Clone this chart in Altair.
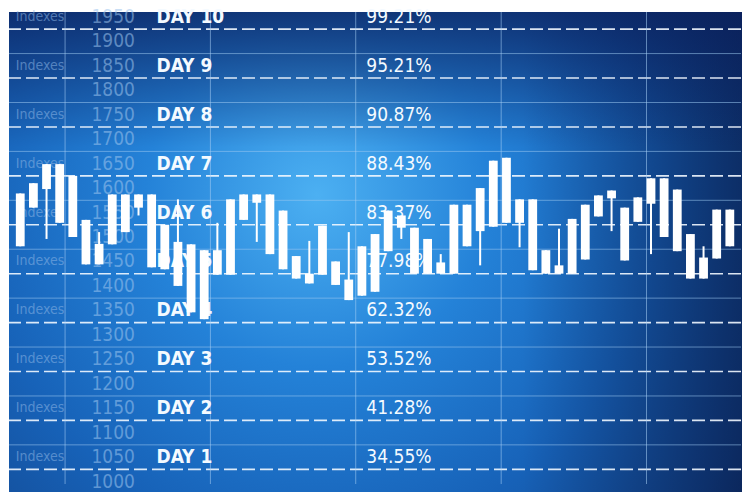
import altair as alt
import pandas as pd

# ---- data (index units) ----
candle_no = list(range(1, 56))
body_top = [1589, 1610, 1649, 1649, 1625, 1535, 1486, 1587, 1587, 1587, 1587, 1525, 1490, 1485, 1473,
            1473, 1577, 1587, 1587, 1587, 1554, 1461, 1425, 1523, 1450, 1413, 1481, 1506, 1554, 1544,
            1519, 1496, 1448, 1566, 1566, 1600, 1656, 1662, 1577, 1577, 1473, 1442, 1537, 1566, 1585,
            1595, 1560, 1581, 1620, 1620, 1597, 1506, 1458, 1556, 1556]
body_bottom = [1481, 1560, 1598, 1529, 1500, 1444, 1444, 1485, 1510, 1560, 1438, 1434, 1400, 1346, 1332,
               1423, 1423, 1535, 1570, 1465, 1434, 1415, 1405, 1423, 1402, 1371, 1380, 1388, 1471, 1519,
               1425, 1425, 1425, 1425, 1481, 1512, 1521, 1529, 1529, 1432, 1425, 1425, 1425, 1454, 1542,
               1579, 1452, 1531, 1568, 1500, 1471, 1415, 1415, 1456, 1481]
wick_high = [1589, 1610, 1649, 1649, 1625, 1535, 1510, 1587, 1587, 1587, 1587, 1525, 1577, 1485, 1473,
             1529, 1577, 1587, 1587, 1587, 1554, 1461, 1492, 1523, 1450, 1510, 1481, 1506, 1554, 1544,
             1519, 1496, 1465, 1566, 1566, 1600, 1656, 1662, 1577, 1577, 1473, 1517, 1537, 1566, 1585,
             1595, 1560, 1581, 1620, 1620, 1597, 1506, 1481, 1556, 1556]
wick_low = [1481, 1560, 1496, 1529, 1500, 1444, 1444, 1485, 1510, 1544, 1438, 1434, 1400, 1346, 1332,
            1423, 1423, 1535, 1490, 1465, 1434, 1415, 1405, 1423, 1402, 1371, 1380, 1388, 1471, 1496,
            1425, 1425, 1425, 1425, 1481, 1442, 1521, 1529, 1479, 1432, 1425, 1425, 1425, 1454, 1542,
            1512, 1452, 1531, 1465, 1500, 1471, 1415, 1415, 1456, 1481]

index_values = [1000, 1050, 1100, 1150, 1200, 1250, 1300, 1350, 1400, 1450,
                1500, 1550, 1600, 1650, 1700, 1750, 1800, 1850, 1900, 1950]
row_values = [1050, 1150, 1250, 1350, 1450, 1550, 1650, 1750, 1850, 1950]
day_labels = ["DAY 1", "DAY 2", "DAY 3", "DAY 4", "DAY 5", "DAY 6", "DAY 7", "DAY 8", "DAY 9", "DAY 10"]
pct_labels = ["34.55%", "41.28%", "53.52%", "62.32%", "77.98%", "83.37%", "88.43%", "90.87%", "95.21%", "99.21%"]
row_title = "Indexes"

dashed_lines = [1025, 1125, 1225, 1325, 1425, 1525, 1625, 1725, 1825, 1925]
solid_lines = [1075, 1175, 1275, 1375, 1475, 1575, 1675, 1775, 1875]
column_lines = [4.41, 15.47, 26.53, 37.6, 48.66]
col_pos = {"indexes": 2.5, "numbers": 8.07, "days": 11.37, "pct": 27.34}

W, H = 734, 484
xs = alt.Scale(domain=[0.524, 55.47], nice=False, zero=False)
ys = alt.Scale(domain=[995, 1960], nice=False, zero=False)

candles = pd.DataFrame({"n": candle_no, "top": body_top, "bottom": body_bottom,
                        "high": wick_high, "low": wick_low})
idx_df = pd.DataFrame({"v": index_values, "label": [str(v) for v in index_values],
                       "x": col_pos["numbers"]})
rows_df = pd.DataFrame({"v": row_values, "day": day_labels, "pct": pct_labels,
                        "title": row_title, "xi": col_pos["indexes"],
                        "xd": col_pos["days"], "xp": col_pos["pct"]})
dash_df = pd.DataFrame({"v": dashed_lines})
solid_df = pd.DataFrame({"v": solid_lines})
col_df = pd.DataFrame({"c": column_lines})

FONT = "DejaVu Sans Condensed, DejaVu Sans"

bg_grad = alt.RadialGradient(
    gradient="radial", x1=0.42, y1=0.42, r1=0, x2=0.42, y2=0.42, r2=0.78,
    stops=[alt.GradientStop(offset=0, color="#4cb0f2"),
           alt.GradientStop(offset=0.3, color="#2482d8"),
           alt.GradientStop(offset=0.6, color="#1762b8"),
           alt.GradientStop(offset=0.85, color="#134a94"),
           alt.GradientStop(offset=1, color="#0e3470")])
right_shade = alt.LinearGradient(
    gradient="linear", x1=0, y1=0, x2=1, y2=0,
    stops=[alt.GradientStop(offset=0, color="rgba(8,30,80,0)"),
           alt.GradientStop(offset=0.7, color="rgba(8,30,80,0)"),
           alt.GradientStop(offset=1, color="rgba(8,25,70,0.65)")])
top_shade = alt.LinearGradient(
    gradient="linear", x1=0, y1=0, x2=0, y2=1,
    stops=[alt.GradientStop(offset=0, color="rgba(10,30,90,0.75)"),
           alt.GradientStop(offset=0.28, color="rgba(10,30,90,0)"),
           alt.GradientStop(offset=1, color="rgba(10,30,90,0)")])

base = alt.Chart(pd.DataFrame({"a": [0]}))
bg = base.mark_rect(fill=bg_grad).encode(x=alt.value(0), x2=alt.value(W), y=alt.value(0), y2=alt.value(H))
bg2 = base.mark_rect(fill=right_shade).encode(x=alt.value(0), x2=alt.value(W), y=alt.value(0), y2=alt.value(H))
bg3 = base.mark_rect(fill=top_shade).encode(x=alt.value(0), x2=alt.value(W), y=alt.value(0), y2=alt.value(H))

solid = alt.Chart(solid_df).mark_rule(color="#9cc8f0", strokeWidth=1, opacity=0.55).encode(
    y=alt.Y("v:Q", scale=ys, axis=None))
dashed = alt.Chart(dash_df).mark_rule(color="#f2f8ff", strokeWidth=1.6, strokeDash=[13, 5], opacity=0.9).encode(
    y=alt.Y("v:Q", scale=ys, axis=None))
cols = alt.Chart(col_df).mark_rule(color="#a8d0f5", strokeWidth=1, opacity=0.55).encode(
    x=alt.X("c:Q", scale=xs, axis=None))

t_idx = alt.Chart(rows_df).mark_text(font=FONT, fontSize=14, color="#8ab4e4", opacity=0.55,
                                     align="center", baseline="middle").encode(
    x=alt.X("xi:Q", scale=xs, axis=None), y=alt.Y("v:Q", scale=ys, axis=None), text="title:N")
t_num = alt.Chart(idx_df).mark_text(font=FONT, fontSize=19, color="#9cc4ee", opacity=0.55,
                                    align="center", baseline="middle").encode(
    x=alt.X("x:Q", scale=xs, axis=None), y=alt.Y("v:Q", scale=ys, axis=None), text="label:N")
t_day = alt.Chart(rows_df).mark_text(font=FONT, fontSize=19, fontWeight="bold", color="#f4faff",
                                     align="left", baseline="middle").encode(
    x=alt.X("xd:Q", scale=xs, axis=None), y=alt.Y("v:Q", scale=ys, axis=None), text="day:N")
t_pct = alt.Chart(rows_df).mark_text(font=FONT, fontSize=19, color="#f4faff",
                                     align="left", baseline="middle").encode(
    x=alt.X("xp:Q", scale=xs, axis=None), y=alt.Y("v:Q", scale=ys, axis=None), text="pct:N")

wicks = alt.Chart(candles).mark_rule(color="white", strokeWidth=2).encode(
    x=alt.X("n:Q", scale=xs, axis=None), y=alt.Y("low:Q", scale=ys, axis=None), y2="high:Q")
bodies = alt.Chart(candles).mark_bar(color="white", size=8.8, orient="vertical").encode(
    x=alt.X("n:Q", scale=xs, axis=None), y=alt.Y("bottom:Q", scale=ys, axis=None), y2="top:Q")

chart = alt.layer(bg, bg2, bg3, solid, dashed, cols, t_idx, t_num, t_day, t_pct, wicks, bodies).properties(
    width=W, height=H, padding=0,
    autosize=alt.AutoSizeParams(type="fit", contains="padding")
).configure_view(stroke=None)

chart.save("out.html", embed_options={"renderer": "svg", "actions": False})
